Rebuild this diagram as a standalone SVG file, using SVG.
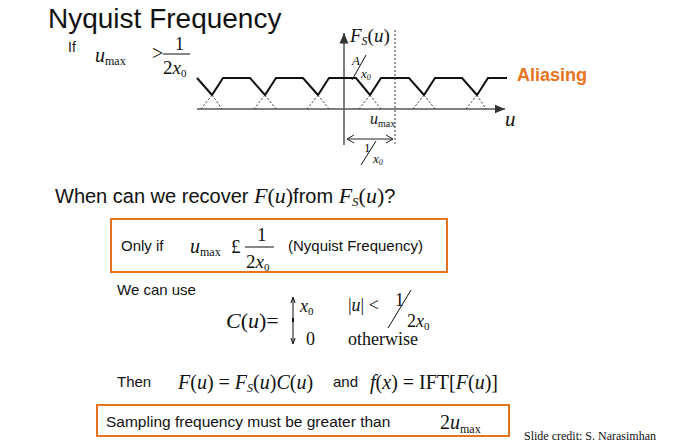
<svg xmlns="http://www.w3.org/2000/svg" width="700" height="445" viewBox="0 0 700 445">
<defs>
<marker id="ah" markerWidth="8" markerHeight="8" refX="7" refY="4" orient="auto"><path d="M0,1 L7,4 L0,7 z" fill="#333"/></marker>
<marker id="oa" markerWidth="10" markerHeight="10" refX="8" refY="5" orient="auto-start-reverse"><path d="M1,1 L8,5 L1,9" fill="none" stroke="#222" stroke-width="1"/></marker>
</defs>
<style>
.s{font-family:"Liberation Sans",Arial,sans-serif;fill:#111}
.m{font-family:"Liberation Serif","Times New Roman",serif;fill:#111}
.i{font-style:italic}
.box{fill:none;stroke:#e8731e;stroke-width:2}
</style>
<rect width="700" height="445" fill="#fff"/>
<g id="title"><text x="48" y="28" class="s" font-size="28">Nyquist Frequency</text></g>
<g id="cond">
<text x="68" y="52" class="s" font-size="14">If</text>
<text x="95" y="62" class="m i" font-size="20">u<tspan font-size="12" font-style="normal" dy="3">max</tspan></text>
<text x="152" y="60" class="m" font-size="20">&gt;</text>
<text x="175" y="50" class="m" font-size="18">1</text>
<line x1="163" y1="54" x2="190" y2="54" stroke="#111" stroke-width="1"/>
<text x="163" y="74" class="m" font-size="19">2<tspan class="i">x</tspan><tspan font-size="11" dy="3">0</tspan></text>
</g>
<g id="plot">
<line x1="344" y1="145" x2="344" y2="33" stroke="#555" stroke-width="1.5" marker-end="url(#ah)"/>
<line x1="197" y1="109" x2="505" y2="109" stroke="#555" stroke-width="1.5" marker-end="url(#ah)"/>
<polyline fill="none" stroke="#111" stroke-width="2" points="197,78 212,95 223,78 250,78 265,95 276,78 303,78 318,95 329,78 356,78 370,95 381,78 409,78 424,95 435,78 462,78 477,95 488,78 507,78"/>
<g stroke="#333" stroke-width="1" stroke-dasharray="2,2" fill="none">
<path d="M212,95 L201,109 M212,95 L222,109 M265,95 L254,109 M265,95 L276,109 M318,95 L307,109 M318,95 L329,109 M370,95 L359,109 M370,95 L381,109 M424,95 L413,109 M424,95 L435,109 M477,95 L466,109 M477,95 L486,109"/>
<line x1="395" y1="30" x2="395" y2="145"/>
</g>
<line x1="347" y1="139" x2="393" y2="139" stroke="#222" stroke-width="1" marker-start="url(#oa)" marker-end="url(#oa)"/>
<text x="350" y="42" class="m i" font-size="19">F<tspan font-size="12" dy="3">S</tspan><tspan dy="-3" font-style="normal">(</tspan>u<tspan font-style="normal">)</tspan></text>
<text x="352" y="65" class="m i" font-size="13">A</text>
<line x1="352" y1="80" x2="366" y2="55" stroke="#111" stroke-width="1"/>
<text x="361" y="78" class="m i" font-size="13">x<tspan font-size="8" dy="2">0</tspan></text>
<text x="370" y="124" class="m i" font-size="16">u<tspan font-size="10" font-style="normal" dy="3">max</tspan></text>
<text x="364" y="152" class="m" font-size="13">1</text>
<line x1="361" y1="165" x2="376" y2="141" stroke="#111" stroke-width="1"/>
<text x="373" y="163" class="m i" font-size="13">x<tspan font-size="8" dy="2">0</tspan></text>
<text x="505" y="126" class="m i" font-size="21">u</text>
<text x="517" y="81" class="s" font-size="18" font-weight="bold" style="fill:#e8731e">Aliasing</text>
</g>
<g id="question">
<text x="55" y="203" class="s" font-size="20">When can we recover <tspan class="m i" font-size="22">F</tspan><tspan class="m" font-size="22">(</tspan><tspan class="m i" font-size="22">u</tspan><tspan class="m" font-size="22">)</tspan>from <tspan class="m i" font-size="22">F</tspan><tspan class="m i" font-size="13" dy="3">S</tspan><tspan class="m" dy="-3" font-size="22">(</tspan><tspan class="m i" font-size="22">u</tspan><tspan class="m" font-size="22">)</tspan>?</text>
</g>
<g id="onlyif">
<rect x="111" y="219" width="336" height="53" class="box"/>
<text x="121" y="251" class="s" font-size="15">Only if</text>
<text x="190" y="253" class="m i" font-size="20">u<tspan font-size="12" font-style="normal" dy="3">max</tspan></text>
<text x="231" y="253" class="m" font-size="19">£</text>
<text x="257" y="241" class="m" font-size="19">1</text>
<line x1="245" y1="247" x2="274" y2="247" stroke="#111" stroke-width="1"/>
<text x="246" y="268" class="m" font-size="19">2<tspan class="i">x</tspan><tspan font-size="11" dy="3">0</tspan></text>
<text x="288" y="251" class="s" font-size="15">(Nyquist Frequency)</text>
</g>
<g id="cu">
<text x="117" y="295" class="s" font-size="15">We can use</text>
<text x="226" y="328" class="m i" font-size="22">C<tspan font-style="normal">(</tspan>u<tspan font-style="normal">)=</tspan></text>
<path d="M293,298 L293,343 M291,303 L293,297 L295,303 M291,338 L293,344 L295,338" fill="none" stroke="#111" stroke-width="1"/>
<path d="M293,318 L293,322" stroke="#111" stroke-width="2"/>
<text x="300" y="312" class="m i" font-size="18">x<tspan font-size="11" font-style="normal" dy="3">0</tspan></text>
<text x="306" y="345" class="m" font-size="18">0</text>
<text x="348" y="311" class="m" font-size="18">|<tspan class="i">u</tspan>| &lt;</text>
<text x="395" y="306" class="m" font-size="18">1</text>
<line x1="388" y1="328" x2="411" y2="290" stroke="#111" stroke-width="1"/>
<text x="407" y="327" class="m" font-size="18">2<tspan class="i">x</tspan><tspan font-size="11" dy="3">0</tspan></text>
<text x="348" y="345" class="m" font-size="18">otherwise</text>
</g>
<g id="then">
<text x="117" y="387" class="s" font-size="15">Then</text>
<text x="178" y="389" class="m i" font-size="20">F<tspan font-style="normal">(</tspan>u<tspan font-style="normal">) = </tspan>F<tspan font-size="12" dy="3">S</tspan><tspan font-style="normal" dy="-3">(</tspan>u<tspan font-style="normal">)</tspan>C<tspan font-style="normal">(</tspan>u<tspan font-style="normal">)</tspan></text>
<text x="333" y="387" class="s" font-size="15">and</text>
<text x="370" y="389" class="m" font-size="20"><tspan class="i">f</tspan>(<tspan class="i">x</tspan>) = IFT[<tspan class="i">F</tspan>(<tspan class="i">u</tspan>)]</text>
</g>
<g id="sampling">
<rect x="97" y="405" width="412" height="31" class="box"/>
<text x="106" y="427" class="s" font-size="15.5">Sampling frequency must be greater than</text>
<text x="440" y="429" class="m" font-size="20">2<tspan class="i">u</tspan><tspan font-size="12" dy="4">max</tspan></text>
</g>
<text x="524" y="440" class="m" font-size="12">Slide credit: S. Narasimhan</text>
</svg>
